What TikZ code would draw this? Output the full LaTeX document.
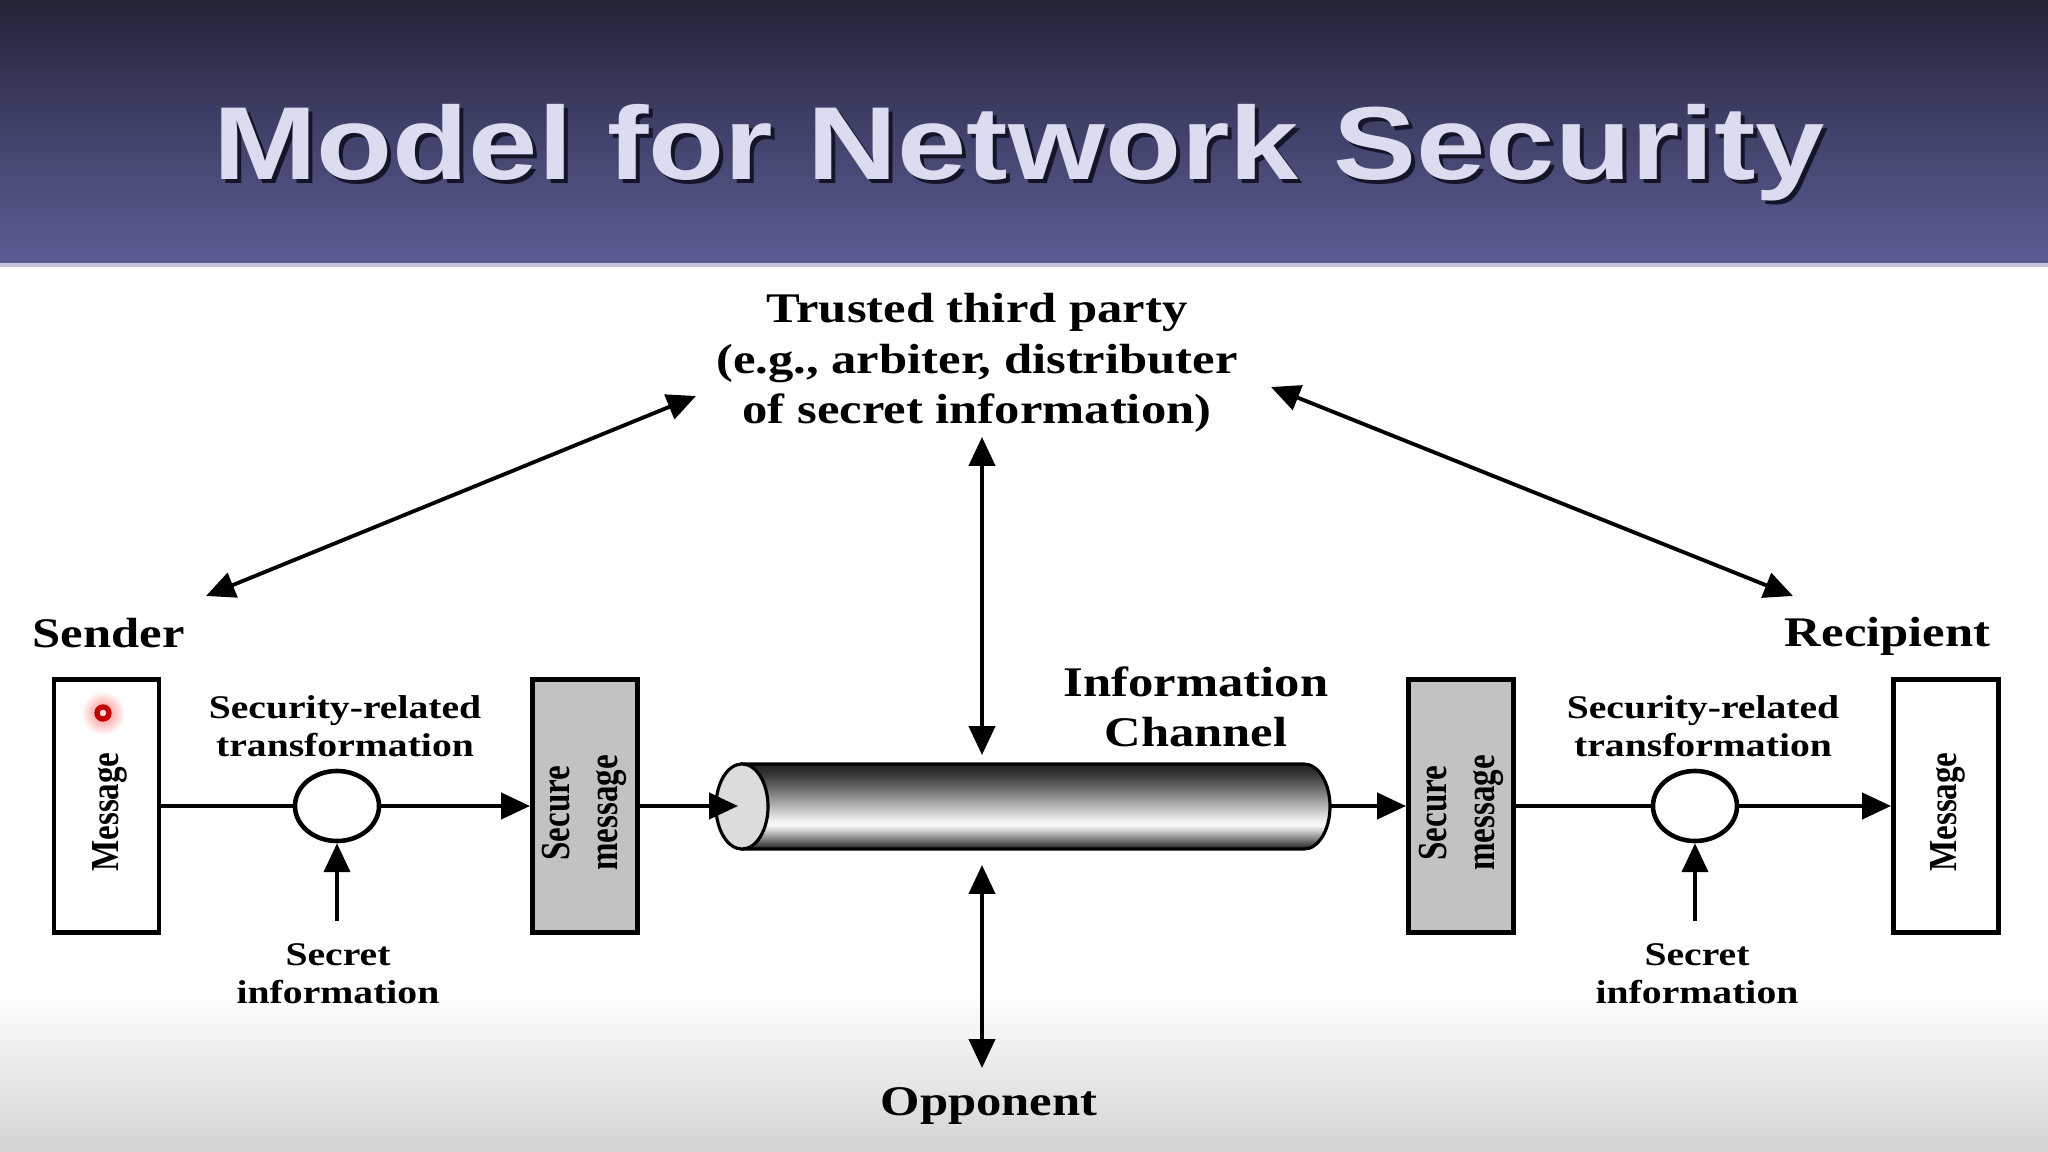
\documentclass[tikz,border=0pt]{standalone}
\usepackage{fontspec}
\usepackage{graphicx}
\usetikzlibrary{arrows.meta,shapes.geometric}
\newfontfamily\dfont[FakeStretch=1.2]{Liberation Serif}
\newfontfamily\rfont{Liberation Serif}
\newfontfamily\tfont[FakeStretch=1.2]{Liberation Sans}
\definecolor{bandtop}{HTML}{232336}
\definecolor{bandmid}{HTML}{3E3F66}
\definecolor{bandbot}{HTML}{5C5E94}
\definecolor{bandline}{HTML}{C4C4DC}
\definecolor{titlecol}{HTML}{DCDCF0}
\definecolor{shadowcol}{HTML}{15152A}
\definecolor{boxgray}{HTML}{C2C2C2}
\definecolor{facegray}{HTML}{DCDCDC}
\definecolor{csA}{HTML}{202020}
\definecolor{csB}{HTML}{606060}
\definecolor{csC}{HTML}{B0B0B0}
\definecolor{csD}{HTML}{FAFAFA}
\definecolor{csE}{HTML}{F0F0F0}
\definecolor{csF}{HTML}{B8B8B8}
\definecolor{csG}{HTML}{707070}
\definecolor{csH}{HTML}{383838}
\pgfdeclareverticalshading{cylshade}{100bp}{color(0bp)=(csA); color(25bp)=(csA); color(29bp)=(csB); color(34bp)=(csC); color(39bp)=(csD); color(42bp)=(csE); color(50bp)=(csF); color(60bp)=(csG); color(69bp)=(csH); color(75bp)=(csA); color(100bp)=(csA)}
\tikzset{
  lbl/.style={font=\dfont\bfseries\fontsize{12}{14.3}\selectfont, align=center, inner sep=0pt},
  slbl/.style={font=\dfont\bfseries\fontsize{9.4}{10.8}\selectfont, align=center, inner sep=0pt},
  rlbl/.style={rotate=90, font=\rfont\bfseries\fontsize{9.4}{11}\selectfont, inner sep=0pt},
  mbox/.style={draw, line width=1.4pt, minimum width=1.05cm, minimum height=2.53cm, inner sep=0pt},
  gmbox/.style={mbox, fill=boxgray},
  xform/.style={draw, ellipse, line width=1.3pt, minimum width=0.84cm, minimum height=0.70cm, fill=white, inner sep=0pt},
  conn/.style={line width=1.1pt},
  arr/.style={conn, -{Triangle[length=8.2pt,width=7.4pt]}},
  darr/.style={conn, {Triangle[length=8.2pt,width=7.4pt]}-{Triangle[length=8.2pt,width=7.4pt]}},
}
\begin{document}
\begin{tikzpicture}[x=0.01cm,y=-0.01cm]
\useasboundingbox (0,0) rectangle (2048,1152);
% backgrounds
\fill[white] (0,0) rectangle (2048,1152);
\shade[top color=white, bottom color=black!17] (0,990) rectangle (2048,1152);
\shade[top color=bandtop, bottom color=bandmid] (0,0) rectangle (2048,120);
\shade[top color=bandmid, bottom color=bandbot] (0,119) rectangle (2048,265);
\fill[bandline] (0,263) rectangle (2048,267);
% title
\node[font=\tfont\bfseries\fontsize{29.5}{32}\selectfont, text=shadowcol, anchor=base] (titleshadow) at (1023,184) {Model for Network Security};
\node[font=\tfont\bfseries\fontsize{29.5}{32}\selectfont, text=titlecol, anchor=base] (title) at (1019,180) {Model for Network Security};

% labels
\node[lbl] (ttp) at (977,363) {Trusted third party\\(e.g., arbiter, distributer\\of secret information)};
\node[lbl, anchor=west] (sender) at (32,633) {Sender};
\node[lbl, anchor=east] (recipient) at (1991,636) {Recipient};
\node[lbl] (chan) at (1196,707) {Information\\Channel};
\node[lbl] (opp) at (989,1106) {Opponent};
\node[slbl] (srtL) at (345,726) {Security-related\\transformation};
\node[slbl] (srtR) at (1703,726) {Security-related\\transformation};
\node[slbl] (secretL) at (338,974) {Secret\\information};
\node[slbl] (secretR) at (1697,974) {Secret\\information};

% boxes
\node[mbox] (msgL) at (106.5,806) {};
\node[gmbox] (secL) at (585,806) {};
\node[gmbox] (secR) at (1461,806) {};
\node[mbox] (msgR) at (1946,806) {};
\node[rlbl] (msgLt) at (110,812) {\scalebox{1}[1.2]{Message}};
\node[rlbl] (secLt) at (584,813) {\scalebox{1}[1.25]{\begin{tabular}{@{}c@{}}Secure\\message\end{tabular}}};
\node[rlbl] (secRt) at (1461,813) {\scalebox{1}[1.25]{\begin{tabular}{@{}c@{}}Secure\\message\end{tabular}}};
\node[rlbl] (msgRt) at (1948,812) {\scalebox{1}[1.2]{Message}};

% transformation circles
\node[xform] (circL) at (337,806) {};
\node[xform] (circR) at (1695,806) {};

% cylinder
\shade[shading=cylshade, draw=black, line width=0.9pt] (742,764) -- (1304,764) arc[start angle=90, end angle=-90, x radius=0.26cm, y radius=0.425cm] -- (742,849) -- cycle;
\draw[fill=facegray, line width=0.9pt] (742,806.5) ellipse[x radius=0.26cm, y radius=0.425cm];

% free connector ends
\coordinate (cylL) at (738,806);
\coordinate (cylR) at (1330,806);
\coordinate (cylT) at (982,755);
\coordinate (ttpB) at (982,437);
\coordinate (cylB) at (982,865);
\coordinate (oppT) at (982,1068);
\coordinate (sL) at (337,921);
\coordinate (sR) at (1695,921);
\coordinate (ttpL) at (696,396);
\coordinate (sendC) at (206,596);
\coordinate (ttpR) at (1271,387);
\coordinate (recC) at (1793,596);

% connectors
\draw[conn] (msgL) -- (circL);
\draw[arr] (circL) -- (secL);
\draw[arr] (secL) -- (cylL);
\draw[arr] (cylR) -- (secR);
\draw[conn] (secR) -- (circR);
\draw[arr] (circR) -- (msgR);
\draw[arr] (sL) -- (circL);
\draw[arr] (sR) -- (circR);
\draw[darr] (ttpB) -- (cylT);
\draw[darr] (cylB) -- (oppT);
\draw[darr] (ttpL) -- (sendC);
\draw[darr] (ttpR) -- (recC);

% pointer highlight
\shade[inner color=red!50, outer color=white] (103,713) circle[radius=0.22cm];
\draw[red!75!black, fill=red!15, line width=1.5pt] (103,713) circle[radius=0.06cm];
\end{tikzpicture}
\end{document}
